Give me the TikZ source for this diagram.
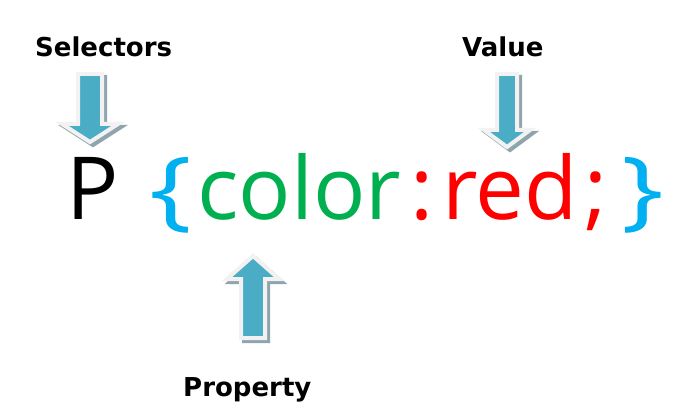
\documentclass[tikz,border=0pt]{standalone}
\usepackage{fontspec}
\setmainfont{Open Sans}
\newfontfamily\tagfont{DejaVu Sans}
\definecolor{arrowblue}{HTML}{4BACC6}
\definecolor{arrowrim}{HTML}{F2F2F2}
\definecolor{arrowgray}{HTML}{8FA5AD}
\definecolor{bracecol}{HTML}{00B0F0}
\definecolor{propcol}{HTML}{00B050}
\definecolor{valcol}{HTML}{FF0000}

\tikzset{
  tag/.style={font=\tagfont\bfseries\fontsize{26}{30}\selectfont, inner sep=0pt, anchor=base west},
  code/.style={font=\fontsize{87}{100}\selectfont, inner sep=0pt, anchor=base west},
  brace/.style={code, text=bracecol, xscale=1.3},
  arrowbody/.style={fill=arrowblue, draw=arrowrim, line width=4pt, line join=miter},
  arrowshadow/.style={fill=arrowgray, draw=arrowgray, line width=4pt, line join=miter, shift={(3,3)}},
}

% x, tail, head base, tip, shaft half width, head half width
\newcommand{\calloutarrow}[6]{%
  \foreach \layer in {arrowshadow,arrowbody}
    \path[\layer] (#1-#5,#2) -- (#1+#5,#2) -- (#1+#5,#3) -- (#1+#6,#3) -- (#1,#4)
      -- (#1-#6,#3) -- (#1-#5,#3) -- cycle;%
}

\begin{document}
\begin{tikzpicture}[x=1pt, y=-1pt]
\useasboundingbox (0,0) rectangle (680,414);

\node[tag] (selectors) at (35,57) {Selectors};
\node[tag] (value) at (462,57) {Value};
\node[tag] (property) at (183,396) {Property};

\calloutarrow{90}{74}{124}{142}{12}{28}
\calloutarrow{507}{74}{130}{147}{10}{23}
\calloutarrow{253}{338}{279}{256}{12}{26}

\node[code] (sel) at (66,220) {P};
\node[brace] (open) at (149,220) {\{};
\node[code, text=propcol] (prop) at (197,220) {color};
\node[code, text=valcol] (colon) at (410,220) {:};
\node[code, text=valcol] (val) at (442,220) {red};
\node[code, text=valcol] (semi) at (584,220) {;};
\node[brace] (close) at (621,220) {\}};

\end{tikzpicture}
\end{document}
